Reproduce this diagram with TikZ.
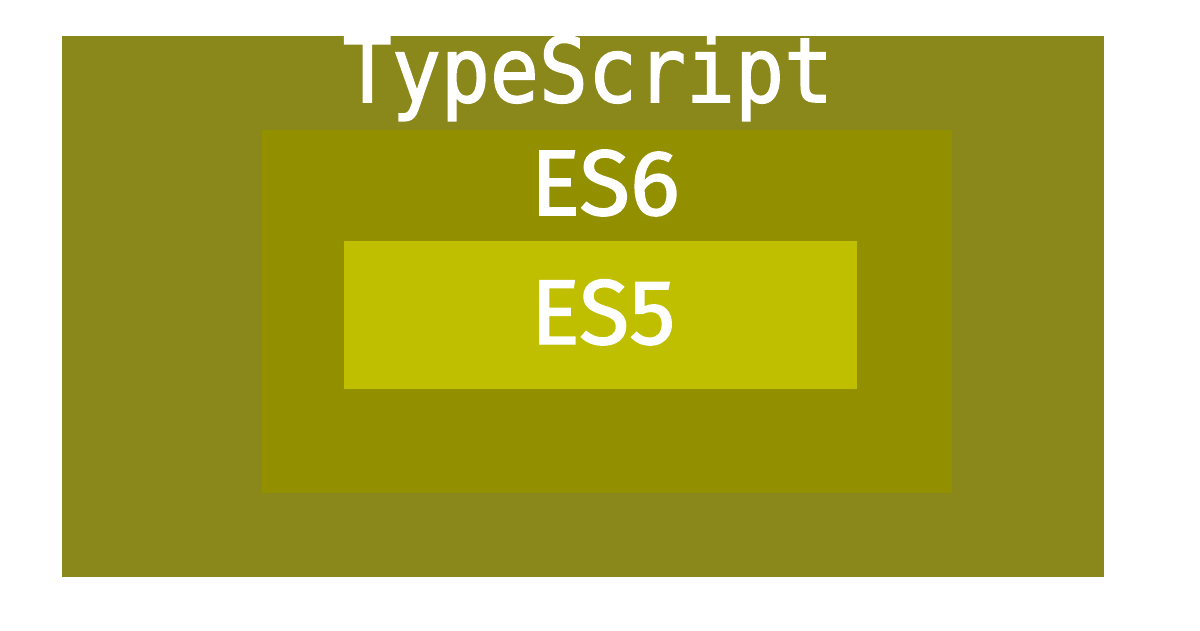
\documentclass[tikz,border=0pt]{standalone}
\usepackage{fontspec}
\setmainfont{Fira Sans}
\newfontfamily\esfont[FakeBold=1.6]{Fira Sans}
\newfontfamily\codefont[FakeBold=1.8]{DejaVu Sans Mono}
\definecolor{outerc}{RGB}{138,135,27}
\definecolor{midc}{RGB}{147,144,0}
\definecolor{innerc}{RGB}{191,191,0}
\begin{document}
\begin{tikzpicture}[x=1pt,y=-1pt,
  lbl/.style={text=white,inner sep=0pt,anchor=base}]
\useasboundingbox (0,0) rectangle (1200,630);
\fill[white] (0,0) rectangle (1200,630);
\fill[outerc] (62,36) rectangle (1104,577);
\fill[midc] (262,130) rectangle (952,493);
\fill[innerc] (344,241) rectangle (857,389);
\node[lbl] (ts) at (588,102) {\scalebox{0.905}[1]{\codefont\fontsize{90}{90}\selectfont TypeScript}};
\node[lbl] (es6) at (605,215) {\esfont\fontsize{93}{93}\selectfont ES6};
\node[lbl] (es5) at (603,344) {\esfont\fontsize{92}{92}\selectfont ES5};
\end{tikzpicture}
\end{document}
